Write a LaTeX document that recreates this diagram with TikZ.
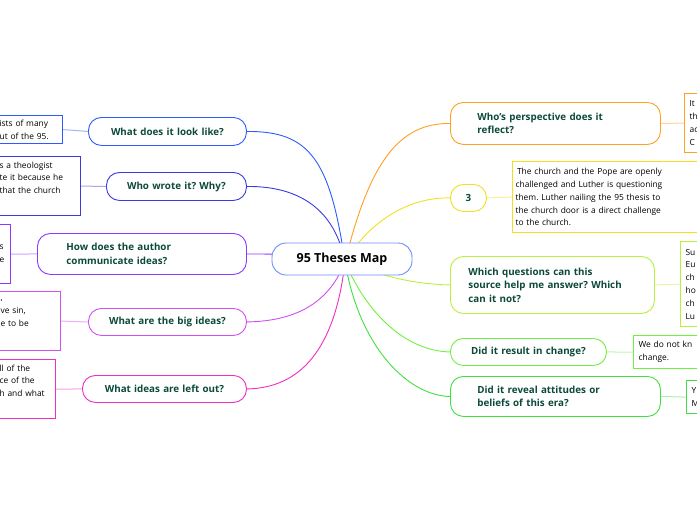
\documentclass[tikz,border=0pt]{standalone}
\usepackage{fontspec}
\setmainfont{Open Sans}
\frenchspacing
\begin{document}
\begin{tikzpicture}[x=1pt,y=-1pt,
  br/.style={draw=#1,line width=0.9pt,rounded corners=13pt,fill=white,font=\fontsize{9.8}{13.5}\selectfont\bfseries,text=tdark,align=left,inner xsep=0pt,anchor=north west},
  lf/.style={draw=#1,line width=1.2pt,fill=white,font=\fontsize{8.4}{12.8}\selectfont,align=left,anchor=north west,inner sep=0pt},
  cv/.style={draw=#1,line width=0.9pt},
  ln/.style={draw=#1!45,line width=1pt}]
\definecolor{tdark}{HTML}{0B4A3A}
\definecolor{c1}{HTML}{2D5BFF}\definecolor{c2}{HTML}{3A3ADF}\definecolor{c3}{HTML}{8A3AFF}
\definecolor{c4}{HTML}{D050F0}\definecolor{c5}{HTML}{EE2CC8}
\definecolor{d1}{HTML}{FFA020}\definecolor{d2}{HTML}{F0E020}\definecolor{d3}{HTML}{B8F040}
\definecolor{d4}{HTML}{70F040}\definecolor{d5}{HTML}{40E040}
\useasboundingbox (0,0) rectangle (697,520);
\coordinate (o) at (345,262);
% left branch nodes
\node[br=c1,minimum width=158,minimum height=28,text width=148,align=center] (l1) at (88,117) {What does it look like?};
\node[br=c2,minimum width=140,minimum height=28,text width=130,align=center] (l2) at (106,172) {Who wrote it? Why?};
\node[br=c3,minimum width=209,minimum height=41,text width=185] (l3) at (37,233) {\hspace*{17pt}How does the author\\\hspace*{17pt}communicate ideas?};
\node[br=c4,minimum width=158,minimum height=27,text width=148,align=center] (l4) at (88,308) {What are the big ideas?};
\node[br=c5,minimum width=164,minimum height=27,text width=154,align=center] (l5) at (82,375) {What ideas are left out?};
% right branch nodes
\node[br=d1,minimum width=210,minimum height=42,text width=190] (r1) at (450,102) {\hspace*{17pt}Who's perspective does it\\\hspace*{17pt}reflect?};
\node[br=d2,minimum width=36,minimum height=27,text width=30,align=center] (r2) at (450,184) {3};
\node[br=d3,minimum width=204,minimum height=57,text width=196] (r3) at (450,256) {\hspace*{14pt}Which questions can this\\\hspace*{14pt}source help me answer? Which\\\hspace*{14pt}can it not?};
\node[br=d4,minimum width=156,minimum height=27,text width=146,align=center] (r4) at (450,338) {Did it result in change?};
\node[br=d5,minimum width=210,minimum height=40,text width=190] (r5) at (450,376) {\hspace*{17pt}Did it reveal attitudes or\\\hspace*{17pt}beliefs of this era?};
% leaves
\node[lf=c1,minimum width=64,minimum height=28,text width=62] (a1) at (-2,115) {ists of many\\ut of the 95.};
\node[lf=c2,minimum width=82,minimum height=59,text width=80] (a2) at (-2,156) {s a theologist\\te it because he\\ that the church\\\strut};
\node[lf=c3,minimum width=12,minimum height=59,text width=10] (a3) at (-2,224) {s\\e};
\node[lf=c4,minimum width=62,minimum height=59,text width=58] (a4) at (-2,291) {,\\ve sin,\\e to be\\\strut};
\node[lf=c5,minimum width=57,minimum height=59,text width=55] (a5) at (-2,359) {ll of the\\ce of the\\h and what\\\strut};
\node[lf=d1,minimum width=30,minimum height=59,text width=26] (b1) at (684,93) {\hspace*{3pt}It\\\hspace*{3pt}th\\\hspace*{3pt}ac\\\hspace*{3pt}C};
\node[lf=d2,minimum width=185,minimum height=71,text width=181,inner xsep=3pt] (b2) at (512,161) {\,The church and the Pope are openly\\challenged and Luther is questioning\\them. Luther nailing the 95 thesis to\\the church door is a direct challenge\\to the church.};
\node[lf=d3,minimum width=30,minimum height=85,text width=26] (b3) at (680,241) {\hspace*{3pt}Su\\\hspace*{3pt}Eu\\\hspace*{3pt}ch\\\hspace*{3pt}ho\\\hspace*{3pt}ch\\\hspace*{3pt}Lu};
\node[lf=d4,minimum width=70,minimum height=33,text width=66] (b4) at (633,335) {\hspace*{3pt}We do not kn\\\hspace*{3pt}change.};
\node[lf=d5,minimum width=30,minimum height=33,text width=26] (b5) at (686,380) {\hspace*{3pt}Y\\\hspace*{3pt}M};
% leaf connectors
\foreach \b/\l/\c in {l1/a1/c1,l2/a2/c2,l3/a3/c3,l4/a4/c4,l5/a5/c5}{\draw[ln=\c] (\b.west) -- (\l.east);}
\foreach \b/\l/\c in {r1/b1/d1,r2/b2/d2,r3/b3/d3,r4/b4/d4,r5/b5/d5}{\draw[ln=\c] (\b.east) -- (\l.west);}
% curves
\draw[cv=c1] (o) .. controls (330,160) and (310,131) .. (l1.east);
\draw[cv=c2] (o) .. controls (335,210) and (300,186) .. (l2.east);
\draw[cv=c3] (o) .. controls (320,255) and (290,254) .. (l3.east);
\draw[cv=c4] (o) .. controls (330,300) and (300,321) .. (l4.east);
\draw[cv=c5] (o) .. controls (335,350) and (300,388) .. (l5.east);
\draw[cv=d1] (o) .. controls (370,160) and (400,123) .. (r1.west);
\draw[cv=d2] (o) .. controls (370,220) and (410,197) .. (r2.west);
\draw[cv=d3] (o) .. controls (380,275) and (410,284) .. (r3.west);
\draw[cv=d4] (o) .. controls (370,320) and (410,351) .. (r4.west);
\draw[cv=d5] (o) .. controls (360,350) and (410,396) .. (r5.west);
\node[draw=c1!70,line width=0.9pt,rounded corners=14pt,fill=white,minimum width=140,minimum height=32,font=\fontsize{12.5}{14}\selectfont\bfseries,text=black] (m) at (342,259) {95 Theses Map};
\end{tikzpicture}
\end{document}
